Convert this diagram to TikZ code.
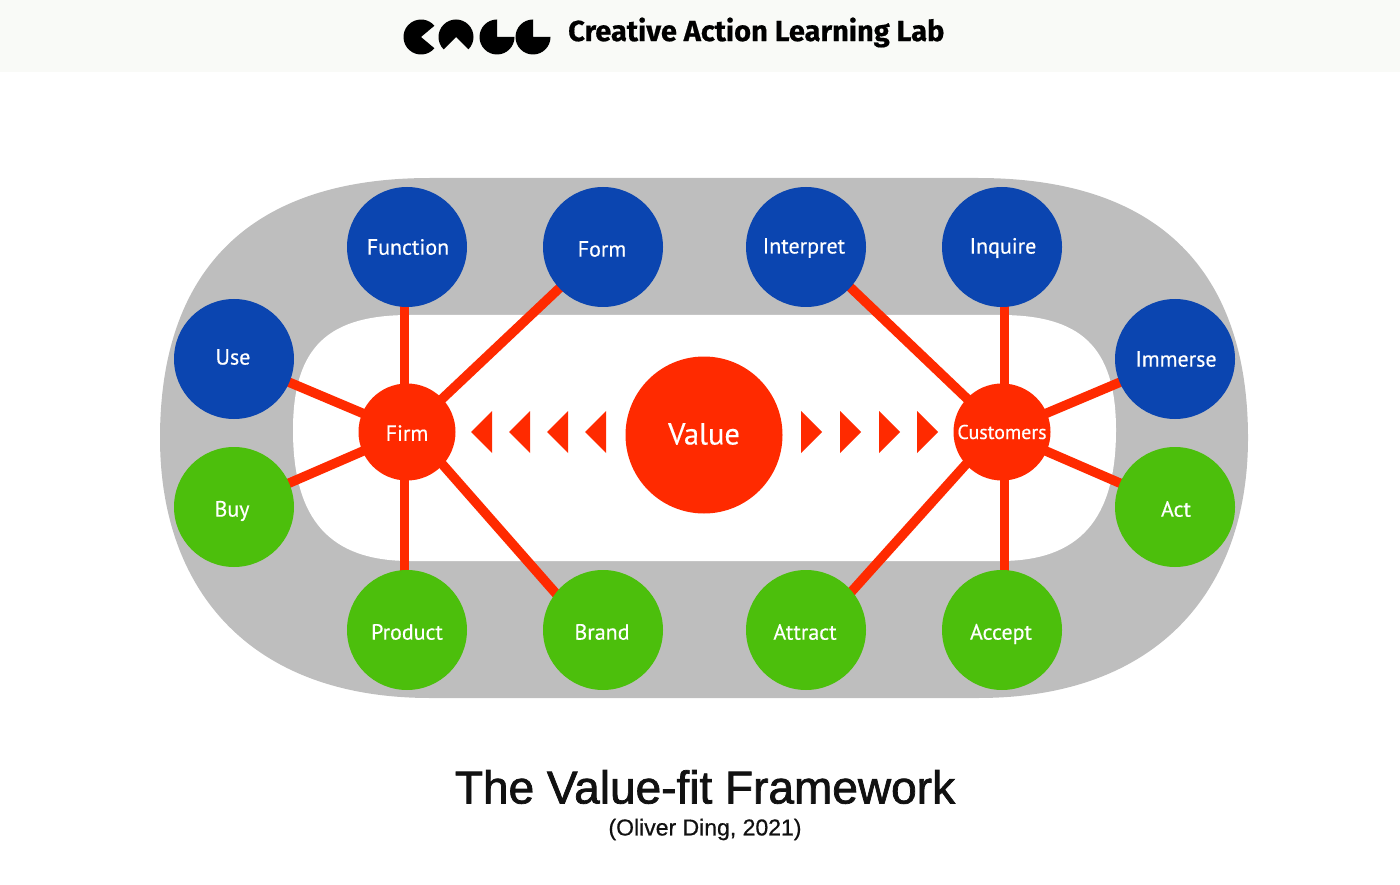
\documentclass[tikz,border=0pt]{standalone}
\usepackage{fontspec}
\setmainfont{PT Sans}[RawFeature={embolden=0.35}]
\newfontfamily\arialf{Liberation Sans}[RawFeature={embolden=1.6}]
\newfontfamily\arialsub{Liberation Sans}[RawFeature={embolden=0.6}]
\newfontfamily\logof{Fira Sans}[UprightFont=* Bold,RawFeature={embolden=0.6}]
\usetikzlibrary{backgrounds}
\definecolor{cblue}{HTML}{0B45B0}
\definecolor{cgreen}{HTML}{4CBF0C}
\definecolor{cred}{HTML}{FF2A00}
\definecolor{cgray}{HTML}{BEBEBE}
\definecolor{cband}{HTML}{F9FAF7}
\definecolor{cink}{HTML}{111111}
\tikzset{
  x=1pt,y=-1pt,
  disc/.style={circle,minimum size=120pt,inner sep=0pt,outer sep=0pt},
  bluedisc/.style={disc,fill=cblue},
  greendisc/.style={disc,fill=cgreen},
  hub/.style={circle,fill=cred,minimum size=97pt,inner sep=0pt,outer sep=0pt},
  lab/.style={text=white,inner sep=0pt,font=\fontsize{22}{24}\selectfont},
  txt/.style n args={3}{label={[lab,xshift=#1pt,yshift=#2pt]center:#3}},
  link/.style={draw=cred,line width=9.5pt},
  tri/.style={fill=cred},
  logopart/.style={fill=black},
  headtext/.style={inner sep=0pt,font=\logof\fontsize{29}{32}\selectfont},
  titletext/.style={inner sep=0pt,font=\arialf\fontsize{46}{50}\selectfont,text=cink},
  subtext/.style={inner sep=0pt,font=\arialsub\fontsize{23}{26}\selectfont,text=cink}
}
\begin{document}
\begin{tikzpicture}
\useasboundingbox (0,0) rectangle (1400,885);
\fill[cband] (0,0) rectangle (1400,72);
% logo
\fill[logopart] (421,37) -- ++(40:17.5) arc[start angle=40,end angle=320,radius=17.5] -- cycle;
\fill[logopart] (456,37) -- ++(135:17.5) arc[start angle=135,end angle=405,radius=17.5] -- cycle;
\fill[logopart] (497,37) -- ++(0:17.5) arc[start angle=0,end angle=270,radius=17.5] -- cycle;
\fill[logopart] (533,37) -- ++(0:17.5) arc[start angle=0,end angle=270,radius=17.5] -- cycle;
\node[headtext,anchor=west] (head) at (568,32.5) {Creative Action Learning Lab};

% discs
\node[bluedisc,txt={1}{0}{Function}] (function) at (407,247) {};
\node[bluedisc,txt={-1}{-2}{Form}] (form) at (603,247) {};
\node[bluedisc,txt={-2}{-1}{Interpret}] (interpret) at (806,247) {};
\node[bluedisc,txt={1}{-1}{Inquire}] (inquire) at (1002,247) {};
\node[bluedisc,txt={-1}{2}{Use}] (use) at (234,359) {};
\node[bluedisc,txt={1}{0}{Immerse}] (immerse) at (1175,359) {};
\node[greendisc,txt={-2}{-4}{Buy}] (buy) at (234,507) {};
\node[greendisc,txt={1}{-2}{Act}] (act) at (1175,507) {};
\node[greendisc,txt={0}{-2}{Product}] (product) at (407,630) {};
\node[greendisc,txt={-1}{-2}{Brand}] (brand) at (603,630) {};
\node[greendisc,txt={-1}{-2}{Attract}] (attract) at (806,630) {};
\node[greendisc,txt={-1}{-4}{Accept}] (accept) at (1002,630) {};
\node[hub,txt={0}{-1}{Firm}] (firm) at (407,432) {};
\node[hub,label={[lab,font=\fontsize{20}{24}\selectfont]center:Customers}] (customers) at (1002,432) {};
\node[circle,fill=cred,minimum size=157pt,inner sep=0pt,label={[lab,yshift=1pt,font=\fontsize{30.5}{34}\selectfont]center:Value}] (value) at (704,435) {};

% direction triangles
\foreach \x in {492,530,568,606} \fill[tri] (\x,411) -- (\x-21,432) -- (\x,453) -- cycle;
\foreach \x in {801,840,879,917} \fill[tri] (\x,411) -- (\x+21,432) -- (\x,453) -- cycle;

\begin{scope}[on background layer]
  \fill[cgray] (430,178) .. controls (245,178) and (160,275) .. (160,438)
     .. controls (160,590) and (250,698) .. (430,698) -- (978,698)
     .. controls (1158,698) and (1248,590) .. (1248,438)
     .. controls (1248,275) and (1163,178) .. (978,178) -- cycle;
  \fill[white] (410,315) .. controls (330,315) and (293,345) .. (293,430)
     .. controls (293,520) and (330,561) .. (410,561) -- (1000,561)
     .. controls (1079,561) and (1116,520) .. (1116,430)
     .. controls (1116,345) and (1079,315) .. (1000,315) -- cycle;
  \draw[link] ([xshift=-2.5pt]firm.center) -- ([xshift=-2.5pt]function.center);
  \draw[link] ([xshift=-2.5pt]firm.center) -- ([xshift=-2.5pt]product.center);
  \draw[link] (firm.center) -- (form.center);
  \draw[link] ([xshift=7pt]firm.center) -- ([xshift=-15pt]brand.center);
  \draw[link] (firm.center) -- (use.center);
  \draw[link] (firm.center) -- (buy.center);
  \draw[link] ([xshift=2.5pt]customers.center) -- ([xshift=2.5pt]inquire.center);
  \draw[link] ([xshift=2.5pt]customers.center) -- ([xshift=2.5pt]accept.center);
  \draw[link] (customers.center) -- ([xshift=2pt]interpret.center);
  \draw[link] ([xshift=-7pt]customers.center) -- ([xshift=11pt]attract.center);
  \draw[link] (customers.center) -- (immerse.center);
  \draw[link] (customers.center) -- (act.center);
\end{scope}

\node[titletext] (title) at (705,787) {The Value-fit Framework};
\node[subtext] (sub) at (705,829.5) {(Oliver Ding, 2021)};
\end{tikzpicture}
\end{document}
